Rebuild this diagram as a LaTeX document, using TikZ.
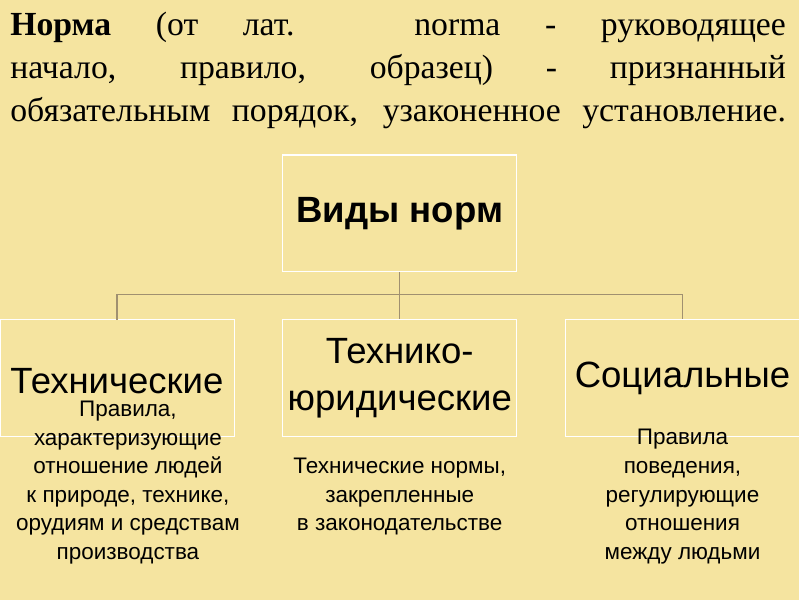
\documentclass[tikz,border=0pt]{standalone}
\usepackage{fontspec}
\setmainfont{Liberation Serif}
\setsansfont{Liberation Sans}
\definecolor{paper}{HTML}{F5E4A0}
\definecolor{linkc}{HTML}{A09070}
\tikzset{
	kind/.style={draw=white, line width=0.8pt, minimum width=5.85cm, minimum height=2.92cm, font=\sffamily\fontsize{26}{30}\selectfont},
	note/.style={align=center, font=\sffamily\fontsize{16}{20.3}\selectfont},
	link/.style={draw=linkc, line width=1pt}
}
\begin{document}
\begin{tikzpicture}[x=0.025cm, y=-0.025cm]
	\fill[paper] (0,0) rectangle (800,600);
	% Definition
	\node[anchor=north west, inner sep=0pt, text width=19.4cm, align=justify, font=\fontsize{24}{30.5}\selectfont] (def) at (10,12)
		{\parfillskip=0pt \textbf{Норма} (от лат. norma - руководящее начало, правило, образец) - признанный обязательным порядок, узаконенное установление.\par};

	% Boxes
	\node[kind, font=\sffamily\bfseries\fontsize{26}{30}\selectfont] (root) at (400,213.5) {Виды норм};
	\node[kind, minimum height=0pt, minimum width=0pt, draw=none, inner sep=0pt] (techt) at (117,381) {Технические};
	\draw[white, line width=0.8pt] (0.5,320) rectangle (235,437);
	\node[kind, align=center, font=\sffamily\fontsize{26}{34}\selectfont] (jur) at (400,378.5) {Технико-\\юридические};
	\node[kind] (soc) at (683,378.5) {Социальные};
	\coordinate (tech) at (117,320);

	% Connectors
	\coordinate (fork) at (400,295);
	\draw[link] (root.south) -- (fork);
	\draw[link] (tech) |- (fork) -| (soc.north);
	\draw[link] (fork) -- (jur.north);

	% Notes
	\node[note] (ntech) at (128,483) {Правила,\\характеризующие\\отношение людей\\к природе, технике,\\орудиям и средствам\\производства};
	\node[note] (njur) at (400,497) {Технические нормы,\\закрепленные\\в законодательстве};
	\node[note] (nsoc) at (683,497) {Правила\\поведения,\\регулирующие\\отношения\\между людьми};
\end{tikzpicture}
\end{document}
